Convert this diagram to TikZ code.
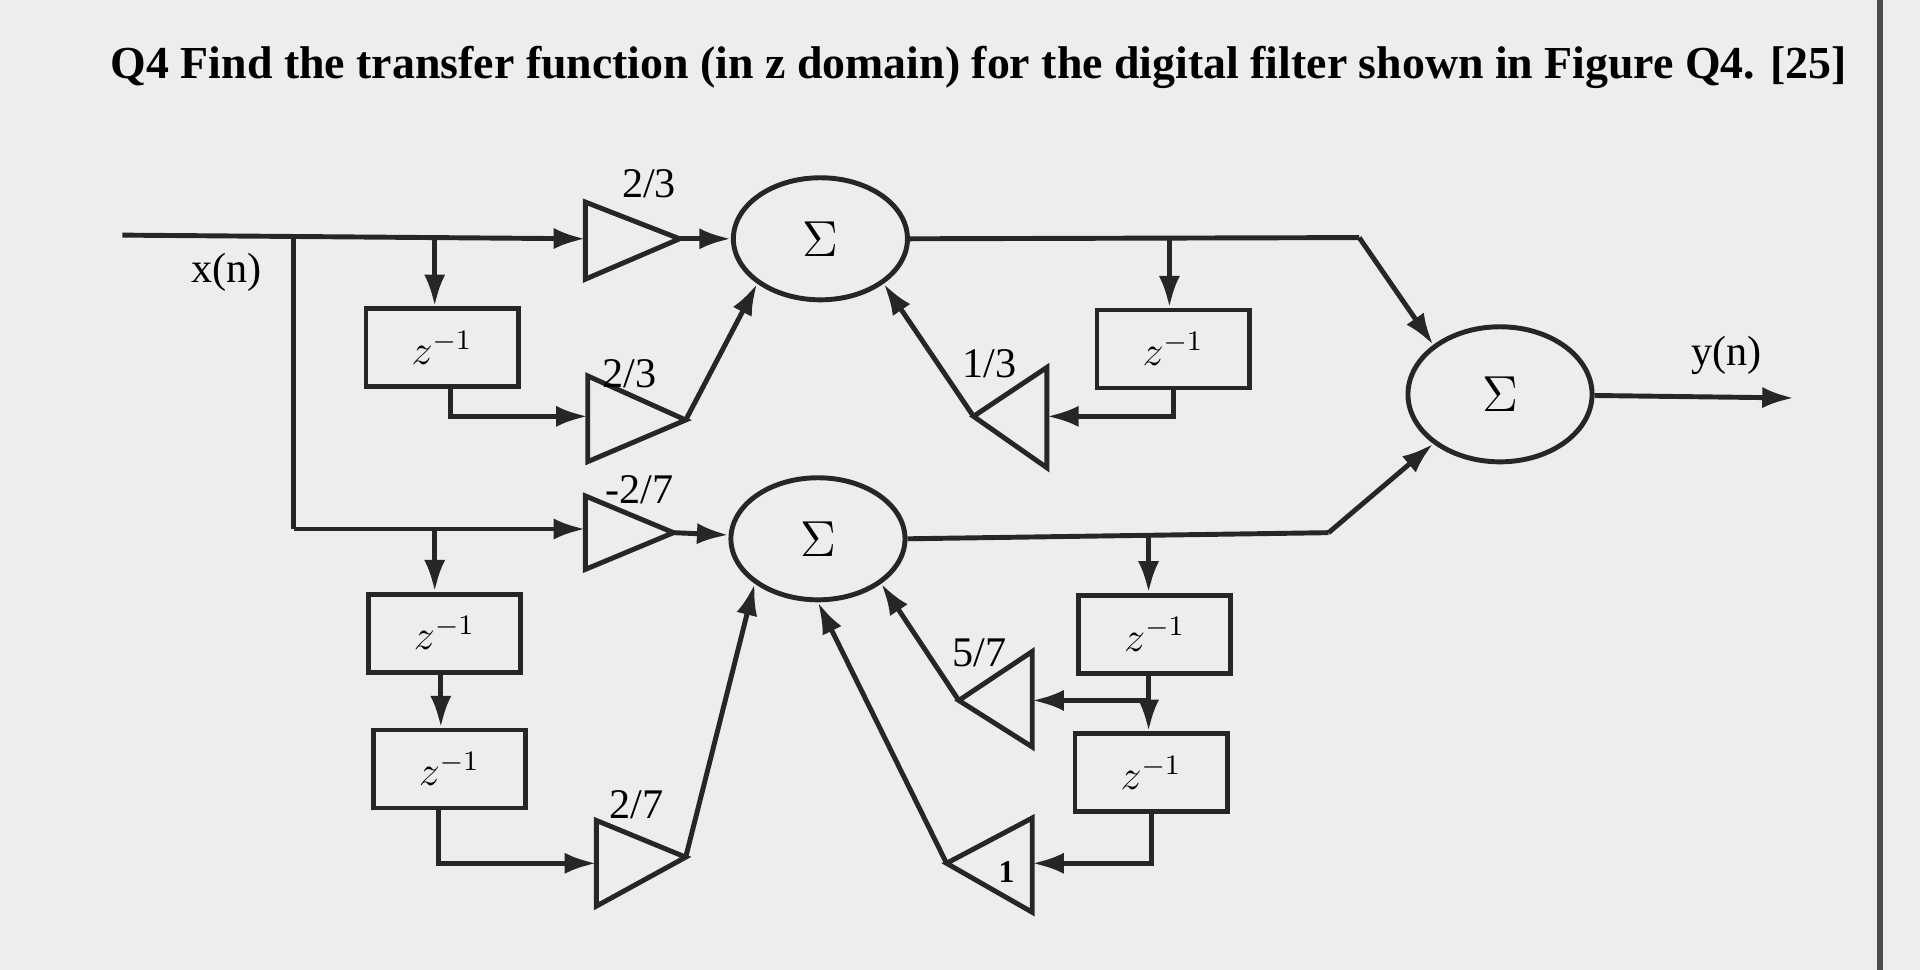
\documentclass[tikz,border=0pt]{standalone}
\usepackage{fontspec}
\setmainfont{Liberation Serif}
\usetikzlibrary{arrows.meta,shapes.geometric}
\begin{document}
\begin{tikzpicture}[x=0.012245cm,y=-0.012245cm,
 ln/.style={line width=1.4pt,black!85},
 ar/.style={ln,-{Latex[length=9pt,width=6pt]}},
 sum/.style={draw=black!85,line width=1.4pt,ellipse,minimum width=1.74cm,minimum height=1.22cm,font=\Large},
 dl/.style={draw=black!85,line width=1.4pt,minimum width=1.52cm,minimum height=0.78cm,font=\large},
 tri/.style={ln,fill=none},
 lb/.style={font=\large}]
\fill[gray!14] (0,0) rectangle (1568,792);
\fill[black!70] (1533,0) rectangle (1538,792);
\useasboundingbox (0,0) rectangle (1568,792);
\node[anchor=west,inner sep=0pt] (title) at (90,55) {\resizebox{17.35cm}{!}{\bfseries Q4 Find the transfer function (in z domain) for the digital filter shown in Figure Q4. [25]}};
% sums
\node[sum] (s1) at (670,195) {$\Sigma$};
\node[sum] (s2) at (668,440) {$\Sigma$};
\node[sum,minimum width=1.84cm,minimum height=1.35cm] (s3) at (1225,322) {$\Sigma$};
% delays
\node[dl] (d1) at (361,284) {$z^{-1}$};
\node[dl] (d2) at (958,285) {$z^{-1}$};
\node[dl] (d3) at (363,517) {$z^{-1}$};
\node[dl] (d4) at (367,628) {$z^{-1}$};
\node[dl] (d5) at (943,518) {$z^{-1}$};
\node[dl] (d6) at (940,631) {$z^{-1}$};
% triangles (gains)
\draw[tri] (478,165) -- (555,195) -- (478,228) -- cycle; \coordinate (g1) at (555,195); \coordinate (g1i) at (478,195);
\draw[tri] (480,307) -- (560,343) -- (480,377) -- cycle; \coordinate (g2) at (560,343); \coordinate (g2i) at (480,340);
\draw[tri] (478,405) -- (550,435) -- (478,465) -- cycle; \coordinate (g3) at (550,435); \coordinate (g3i) at (478,432);
\draw[tri] (855,300) -- (795,340) -- (855,382) -- cycle; \coordinate (g4) at (795,340); \coordinate (g4i) at (855,340);
\draw[tri] (843,532) -- (783,572) -- (843,610) -- cycle; \coordinate (g5) at (783,572); \coordinate (g5i) at (843,572);
\draw[tri] (843,668) -- (773,705) -- (843,745) -- cycle; \coordinate (g6) at (773,705); \coordinate (g6i) at (843,705);
\draw[tri] (487,670) -- (560,700) -- (487,740) -- cycle; \coordinate (g7) at (560,700); \coordinate (g7i) at (487,705);
% labels
\node[lb] (l1) at (530,150) {2/3};
\node[lb] (l2) at (514,305) {2/3};
\node[lb] (l3) at (522,400) {-2/7};
\node[lb] (l4) at (808,297) {1/3};
\node[lb] (l5) at (800,533) {5/7};
\node[font=\small\bfseries] (l6) at (822,712) {1};
\node[lb] (l7) at (520,657) {2/7};
\node[lb] (xn) at (185,222) {x(n)};
\node[lb] (yn) at (1410,290) {y(n)};
% coordinates
\coordinate (in) at (100,192);
\coordinate (o) at (1465,325);
% upper paths
\draw[ar] (in) -- (g1i);
\draw[ar] (g1) -- (s1);
\draw[ar] (355,192) -- (d1.north-|355,192);
\draw[ar] (d1.south-|368,0) |- (g2i);
\draw[ar] (g2) -- (s1.south west);
\draw[ln] (240,192) -- (240,432);
\draw[ar] (240,432) -- (g3i);
\draw[ar] (g3) -- (s2);
\draw[ln] (s1.east) -- (1110,194);
\draw[ar] (1110,194) -- (s3.north west);
\draw[ar] (955,194) -- (d2.north-|955,0);
\draw[ar] (d2.south-|958,0) |- (g4i);
\draw[ar] (g4) -- (s1.south east);
\draw[ar] (s3) -- (o);
% lower paths
\draw[ln] (s2.east) -- (1085,435);
\draw[ar] (1085,435) -- (s3.south west);
\draw[ar] (938,435) -- (d5.north-|938,0);
\draw[ar] (d5.south-|938,0) -- (d6.north-|938,0);
\draw[ar] (938,572) -- (g5i);
\draw[ar] (g5) -- (s2.south east);
\draw[ar] (d6.south-|940,0) |- (g6i);
\draw[ar] (g6) -- (s2.south);
\draw[ar] (355,432) -- (d3.north-|355,0);
\draw[ar] (d3.south-|360,0) -- (d4.north-|360,0);
\draw[ar] (d4.south-|358,0) |- (g7i);
\draw[ar] (g7) -- (s2.south west);
\end{tikzpicture}
\end{document}
